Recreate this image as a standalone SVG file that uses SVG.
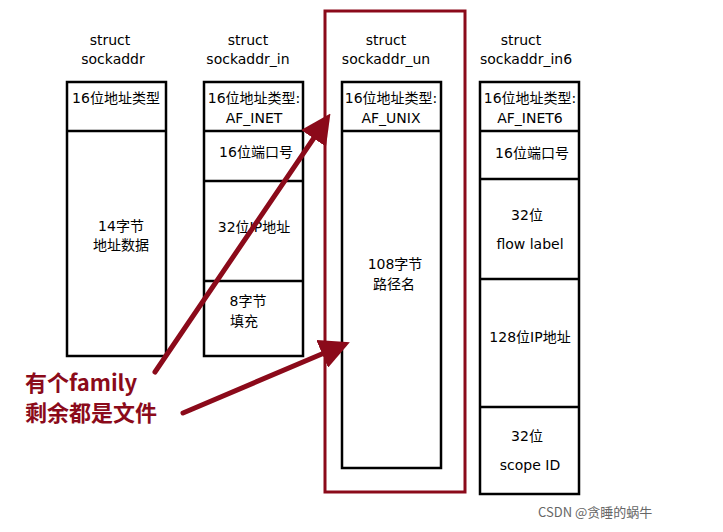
<svg xmlns="http://www.w3.org/2000/svg" width="723" height="532" viewBox="0 0 723 532">
<defs>
<style>
.b{fill:#fff;stroke:#000;stroke-width:2.5}
.t{font-family:"DejaVu Sans","Noto Sans CJK SC",sans-serif;font-size:14px;fill:#000;text-anchor:middle}
.h{font-family:"DejaVu Sans","Noto Sans CJK SC",sans-serif;font-size:14px;fill:#000;text-anchor:middle}
.r{font-family:"Noto Sans CJK SC",sans-serif;font-size:22px;font-weight:bold;fill:#8b0a1a}
.a{stroke:#8b0a1a;stroke-width:5;fill:none;stroke-linecap:round}
</style>
<marker id="m" markerWidth="6" markerHeight="6" refX="3" refY="3" orient="auto" markerUnits="strokeWidth"><path d="M0,0L6,3L0,6Z" fill="#8b0a1a"/></marker>
</defs>
<rect width="723" height="532" fill="#fff"/>
<rect x="325" y="11" width="140" height="481" fill="none" stroke="#8b0a1a" stroke-width="3"/>
<g id="sockaddr">
<text class="h" x="110" y="45">struct</text><text class="h" x="113" y="64">sockaddr</text>
<rect class="b" x="67" y="82" width="99" height="274"/><line class="b" x1="67" y1="131" x2="166" y2="131"/>
<text class="t" x="116" y="103">16位地址类型</text>
<text class="t" x="121" y="231">14字节</text><text class="t" x="121" y="250">地址数据</text>
</g>
<g id="sockaddr_in">
<text class="h" x="248" y="45">struct</text><text class="h" x="248" y="64">sockaddr_in</text>
<rect class="b" x="204" y="82" width="99" height="274"/>
<line class="b" x1="204" y1="131" x2="303" y2="131"/><line class="b" x1="204" y1="181" x2="303" y2="181"/><line class="b" x1="204" y1="281" x2="303" y2="281"/>
<text class="t" x="254" y="103">16位地址类型:</text><text class="t" x="254" y="123">AF_INET</text>
<text class="t" x="256" y="157">16位端口号</text>
<text class="t" x="254" y="232">32位IP地址</text>
<text class="t" x="248" y="306">8字节</text><text class="t" x="244" y="326">填充</text>
</g>
<g id="sockaddr_un">
<text class="h" x="386" y="45">struct</text><text class="h" x="386" y="64">sockaddr_un</text>
<rect class="b" x="342" y="82" width="99" height="386"/><line class="b" x1="342" y1="131" x2="441" y2="131"/>
<text class="t" x="391" y="103">16位地址类型:</text><text class="t" x="391" y="123">AF_UNIX</text>
<text class="t" x="395" y="269">108字节</text><text class="t" x="394" y="289">路径名</text>
</g>
<g id="sockaddr_in6">
<text class="h" x="521" y="45">struct</text><text class="h" x="526" y="64">sockaddr_in6</text>
<rect class="b" x="480" y="82" width="99" height="412"/>
<line class="b" x1="480" y1="131" x2="579" y2="131"/><line class="b" x1="480" y1="179" x2="579" y2="179"/><line class="b" x1="480" y1="279" x2="579" y2="279"/><line class="b" x1="480" y1="407" x2="579" y2="407"/>
<text class="t" x="530" y="103">16位地址类型:</text><text class="t" x="530" y="123">AF_INET6</text>
<text class="t" x="532" y="158">16位端口号</text>
<text class="t" x="527" y="220">32位</text><text class="t" x="530" y="249">flow label</text>
<text class="t" x="530" y="342">128位IP地址</text>
<text class="t" x="527" y="441">32位</text><text class="t" x="530" y="470">scope ID</text>
</g>
<g id="connectors">
<line class="a" x1="155" y1="372" x2="322" y2="126" marker-end="url(#m)"/>
<line class="a" x1="183" y1="413" x2="336" y2="348" marker-end="url(#m)"/>
</g>
<text class="r" x="25" y="391">有个family</text>
<text class="r" x="25" y="421">剩余都是文件</text>
<text x="538" y="517" style="font-family:'Noto Sans CJK SC',sans-serif;font-size:13px;fill:#666">CSDN @贪睡的蜗牛</text>
</svg>
